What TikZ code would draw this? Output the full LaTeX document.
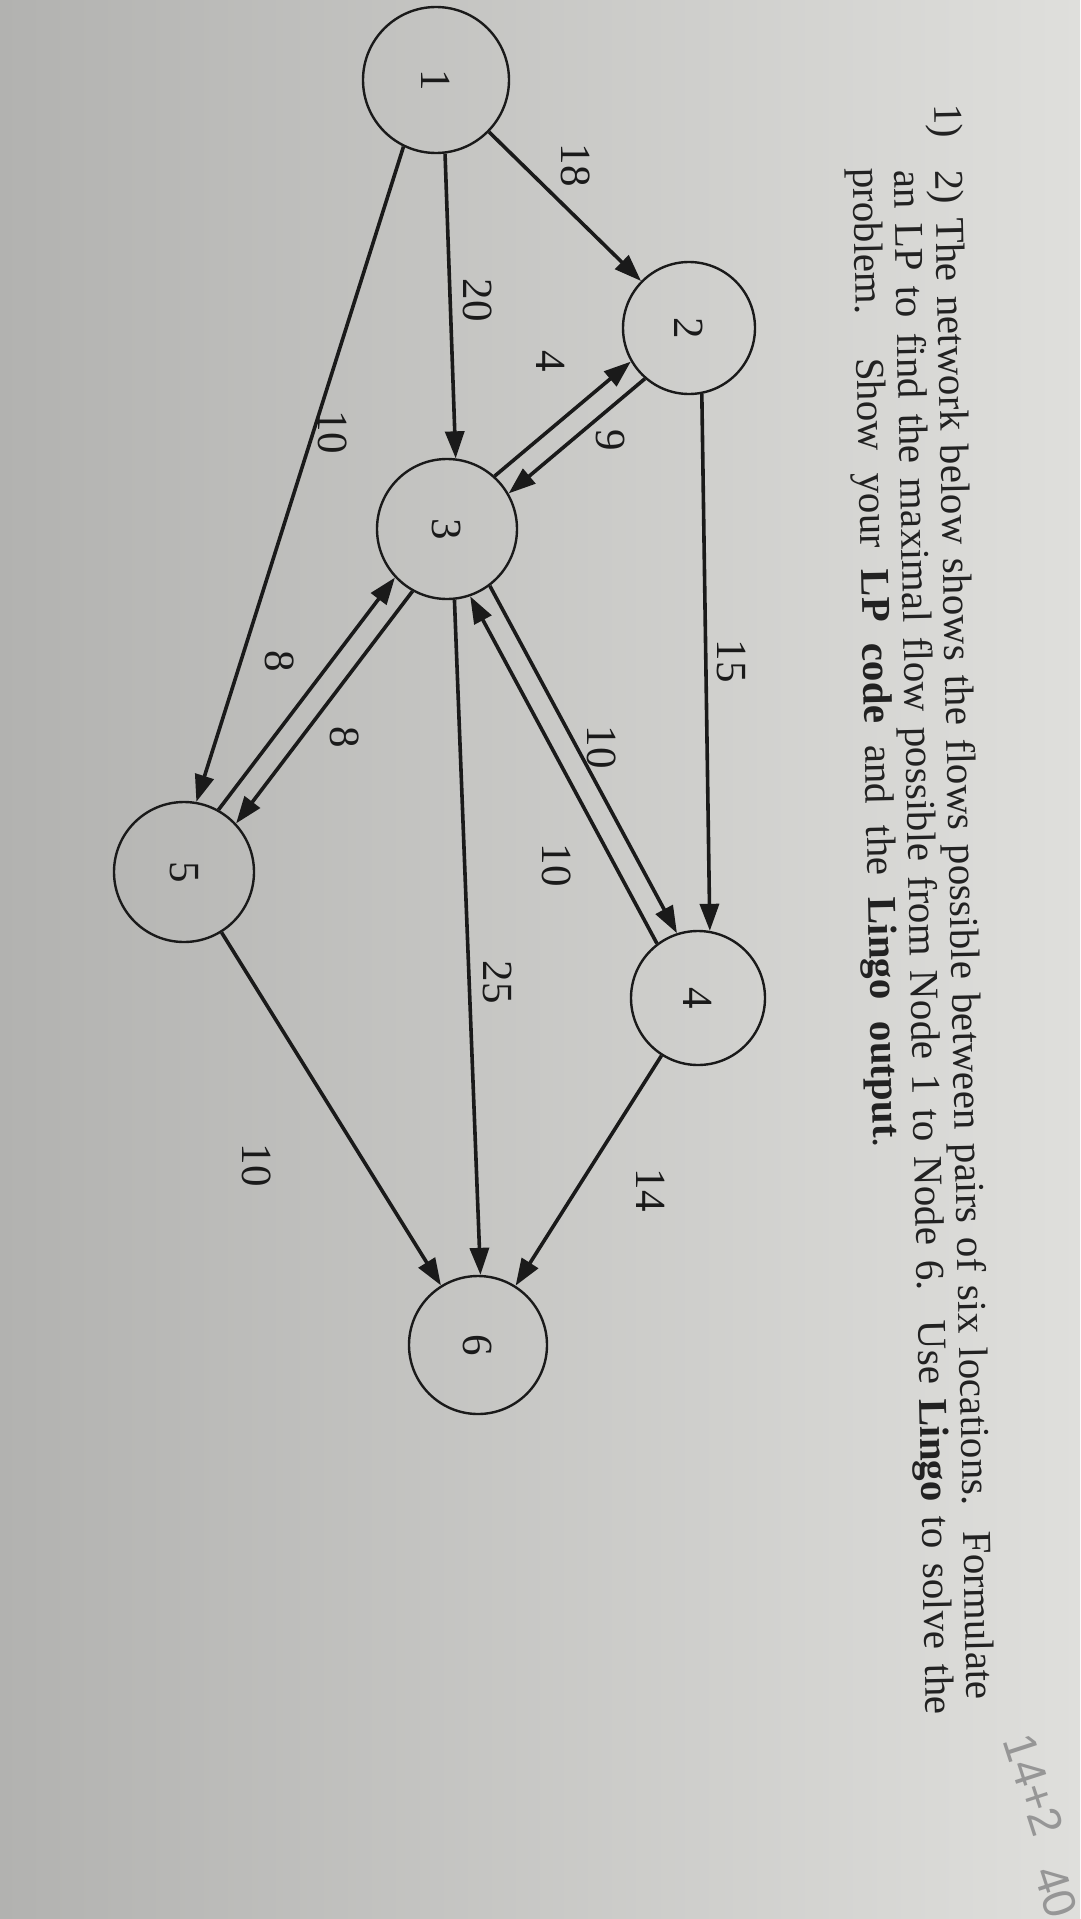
\documentclass[tikz,border=0pt]{standalone}
\usepackage{fontspec}
\setmainfont{Liberation Serif}
\newfontfamily\handfont{Liberation Sans}
\usetikzlibrary{arrows.meta,calc}
\definecolor{ink}{HTML}{1A1A1A}
\definecolor{textink}{HTML}{222222}
\definecolor{paperL}{HTML}{B2B2B0}
\definecolor{paperR}{HTML}{DFDFDC}
\definecolor{pencil}{HTML}{969696}
\begin{document}
\begin{tikzpicture}[x=1pt,y=-1pt,
 circ/.style={circle,draw=ink,line width=2.4pt,inner sep=0pt,font=\fontsize{43}{43}\selectfont,text=ink},
 flow/.style={draw=ink,line width=3.6pt,-{Triangle[length=27pt,width=19pt]}},
 lbl/.style={rotate=-90,font=\fontsize{43}{43}\selectfont,text=ink,inner sep=0pt},
 txt/.style={rotate=-88.8,anchor=base west,inner sep=0pt,font=\fontsize{41}{46}\selectfont,text=textink},
 hand/.style={text=pencil,font=\handfont\fontsize{46}{46}\selectfont,inner sep=0pt}]
\shade[left color=paperL,right color=paperR] (0,0) rectangle (1080,1919);
\useasboundingbox (0,0) rectangle (1080,1919);

% nodes
\node[circ,minimum size=146pt] (n1) at (436,80) {\rotatebox{-90}{1}};
\node[circ,minimum size=132pt] (n2) at (689,328) {\rotatebox{-90}{2}};
\node[circ,minimum size=140pt] (n3) at (447,529) {\rotatebox{-90}{3}};
\node[circ,minimum size=134pt] (n4) at (698,998) {\rotatebox{-90}{4}};
\node[circ,minimum size=140pt] (n5) at (184,872) {\rotatebox{-90}{5}};
\node[circ,minimum size=138pt] (n6) at (478,1345) {\rotatebox{-90}{6}};

% connectors
\draw[flow] (n1) -- (n2);
\draw[flow] (n1.277) -- (n3.83);
\draw[flow] (n1.244) -- (n5.80);
\draw[flow] (n2.281) -- (n4.80);
\draw[flow] (n3.48.7) -- (n2.210);
\draw[flow] (n2.229.4) -- (n3.30.7);
\draw[flow] (n3.307.2) -- (n4.108.8);
\draw[flow] (n4.127.6) -- (n3.289.2);
\draw[flow] (n5.61.5) -- (n3.223.5);
\draw[flow] (n3.241.5) -- (n5.43.5);
\draw[flow] (n3.276) -- (n6.88);
\draw[flow] (n4) -- (n6);
\draw[flow] (n5) -- (n6);

% capacities
\node[lbl] (c12) at (576,165) {18};
\node[lbl] (c13) at (478,300) {20};
\node[lbl] (c32) at (551,361) {4};
\node[lbl] (c23) at (611,440) {9};
\node[lbl] (c15) at (333,432) {10};
\node[lbl] (c24) at (731,661) {15};
\node[lbl] (c34) at (602,747) {10};
\node[lbl] (c43) at (557,865) {10};
\node[lbl] (c53) at (280,661) {8};
\node[lbl] (c35) at (345,737) {8};
\node[lbl] (c36) at (498,982) {25};
\node[lbl] (c46) at (651,1190) {14};
\node[lbl] (c56) at (257,1165) {10};

% question text
\node[txt] (q0) at (934,104) {1)};
\node[txt] (q1) at (935,170) {\makebox[1530pt][s]{2) The network below shows the flows possible between pairs of six locations. Formulate}};
\node[txt] (q2) at (894,170) {\makebox[1545pt][s]{an LP to find the maximal flow possible from Node 1 to Node 6.\ \ Use \textbf{Lingo} to solve the}};
\node[txt] (q3) at (853,168) {\makebox[980pt][s]{problem.\ \ Show your \textbf{LP code} and the \textbf{Lingo output}.}};

% pencil notes
\node[hand,rotate=-72] (h1) at (1034,1785) {14+2};
\node[hand,rotate=-72] (h2) at (1056,1892) {40};
\end{tikzpicture}
\end{document}
